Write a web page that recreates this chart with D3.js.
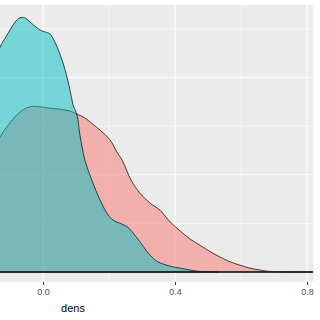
<!DOCTYPE html>
<meta charset="utf-8">
<script src="https://d3js.org/d3.v7.min.js"></script>
<style>
body { margin: 0; background: #fff; }
text { font-family: "Liberation Sans", Arial, sans-serif; }
</style>
<div id="my_dataviz"></div>
<script>

// density curves (x = dens, y = density)
var redX = [-0.16, -0.13, -0.10, -0.070, -0.039, -0.009, 0.021, 0.052, 0.082, 0.103, 0.127, 0.142, 0.173, 0.203, 0.224, 0.240, 0.267, 0.294, 0.324, 0.355, 0.385, 0.415, 0.445, 0.476, 0.506, 0.536, 0.567, 0.597, 0.627, 0.658, 0.688, 0.748, 0.818];
var redY = [2.30, 2.78, 3.07, 3.29, 3.40, 3.40, 3.37, 3.35, 3.31, 3.25, 3.17, 3.09, 2.92, 2.72, 2.47, 2.30, 1.89, 1.62, 1.42, 1.27, 1.03, 0.85, 0.68, 0.55, 0.42, 0.31, 0.21, 0.14, 0.08, 0.04, 0.01, 0.0, 0.0];

var cyanX = [-0.16, -0.130, -0.115, -0.100, -0.085, -0.070, -0.055, -0.039, -0.009, 0.006, 0.021, 0.036, 0.052, 0.067, 0.082, 0.091, 0.103, 0.112, 0.127, 0.148, 0.173, 0.194, 0.212, 0.255, 0.285, 0.324, 0.348, 0.385, 0.415, 0.476, 0.53];
var cyanY = [4.00, 4.63, 4.81, 4.98, 5.14, 5.23, 5.23, 5.14, 4.98, 4.94, 4.90, 4.73, 4.47, 4.16, 3.74, 3.44, 3.23, 2.82, 2.30, 1.89, 1.48, 1.21, 1.07, 0.93, 0.70, 0.35, 0.21, 0.12, 0.08, 0.01, 0.0];

var xTicks = [0, 0.4, 0.8];
var xMinor = [0.2, 0.6];
var yMajor = [0, 2, 4];
var yMinor = [1, 3, 5];

var width = 320, height = 320;
var panel = {left: 0, right: 313, top: 5, bottom: 282};

var svg = d3.select("#my_dataviz")
  .append("svg")
    .attr("width", width)
    .attr("height", height);

var x = d3.scaleLinear()
  .domain([-0.1303, 0.8182])
  .range([panel.left, panel.right]);

var y = d3.scaleLinear()
  .domain([-0.206, 5.494])
  .range([panel.bottom, panel.top]);

// panel background
svg.append("rect")
  .attr("x", panel.left)
  .attr("y", panel.top)
  .attr("width", panel.right - panel.left)
  .attr("height", panel.bottom - panel.top)
  .style("fill", "#EBEBEB");

svg.append("clipPath").attr("id", "clip")
  .append("rect")
  .attr("x", panel.left)
  .attr("y", panel.top)
  .attr("width", panel.right - panel.left)
  .attr("height", panel.bottom - panel.top);

var grid = svg.append("g");
grid.selectAll(".vminor").data(xMinor).enter().append("line")
  .attr("x1", function(d) { return x(d); }).attr("x2", function(d) { return x(d); })
  .attr("y1", panel.top).attr("y2", panel.bottom)
  .style("stroke", "#F7F7F7").style("stroke-width", 0.7);
grid.selectAll(".hminor").data(yMinor).enter().append("line")
  .attr("y1", function(d) { return y(d); }).attr("y2", function(d) { return y(d); })
  .attr("x1", panel.left).attr("x2", panel.right)
  .style("stroke", "#F7F7F7").style("stroke-width", 0.9);
grid.selectAll(".vmajor").data(xTicks).enter().append("line")
  .attr("x1", function(d) { return x(d); }).attr("x2", function(d) { return x(d); })
  .attr("y1", panel.top).attr("y2", panel.bottom)
  .style("stroke", "#FFFFFF").style("stroke-width", 1.1);
grid.selectAll(".hmajor").data(yMajor).enter().append("line")
  .attr("y1", function(d) { return y(d); }).attr("y2", function(d) { return y(d); })
  .attr("x1", panel.left).attr("x2", panel.right)
  .style("stroke", "#FFFFFF").style("stroke-width", 1.1);

var area = d3.area()
  .x(function(d) { return x(d[0]); })
  .y0(y(0))
  .y1(function(d) { return y(d[1]); })
  .curve(d3.curveCatmullRom);

var groups = [
  {x: redX, y: redY, color: "#F8766D"},
  {x: cyanX, y: cyanY, color: "#00BFC4"}
];

var plot = svg.append("g").attr("clip-path", "url(#clip)");
groups.forEach(function(g) {
  var pts = g.x.map(function(v, i) { return [v, g.y[i]]; });
  plot.append("path")
    .datum(pts)
    .attr("d", area)
    .style("fill", g.color)
    .style("fill-opacity", 0.5)
    .style("stroke", "#1a1a1a")
    .style("stroke-width", 0.8);
});

// the outlines meet on the zero line, which reads as a heavier line
plot.append("line")
  .attr("x1", x(redX[0])).attr("x2", x(redX[redX.length - 1]))
  .attr("y1", y(0)).attr("y2", y(0))
  .style("stroke", "#1a1a1a")
  .style("stroke-width", 1.6);

// x axis
var xAxis = svg.append("g")
  .attr("transform", "translate(0," + panel.bottom + ")")
  .call(d3.axisBottom(x).tickValues(xTicks).tickFormat(d3.format(".1f")).tickSize(3).tickPadding(4));
xAxis.select(".domain").remove();
xAxis.selectAll(".tick line").style("stroke", "#333333");
xAxis.selectAll(".tick text").style("fill", "#4D4D4D").style("font-size", "9px");

svg.append("text")
  .attr("x", 73)
  .attr("y", 312)
  .attr("text-anchor", "middle")
  .style("font-size", "11px")
  .style("fill", "#000")
  .text("dens");

</script>
